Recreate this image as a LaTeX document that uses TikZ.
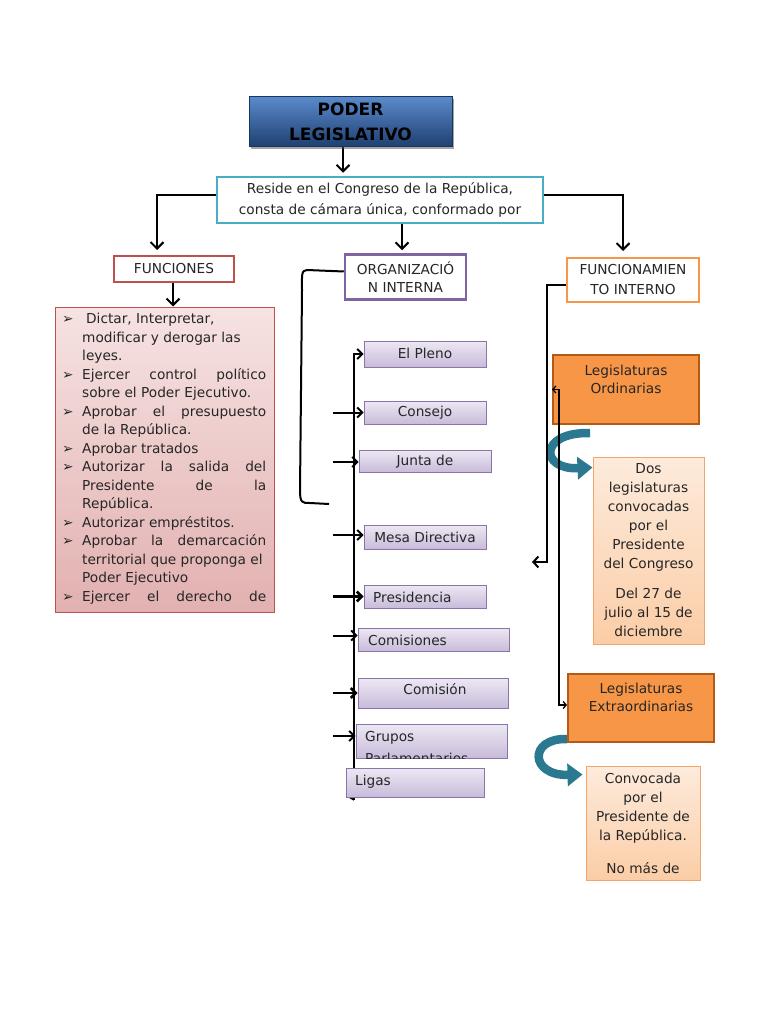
\documentclass[tikz,border=0pt]{standalone}
\usepackage{fontspec}
\setmainfont{DejaVu Sans}
\usetikzlibrary{arrows.meta,shadows,calc}
\pgfdeclarelayer{bg}
\pgfsetlayers{bg,main}
\definecolor{txt}{HTML}{262626}
\definecolor{podtop}{HTML}{5A8ACB}
\definecolor{podbot}{HTML}{1E3F70}
\definecolor{podb}{HTML}{17375E}
\definecolor{resb}{HTML}{4BACC6}
\definecolor{funb}{HTML}{C0504D}
\definecolor{listtop}{HTML}{F6E3E2}
\definecolor{listbot}{HTML}{E2B0B0}
\definecolor{orgb}{HTML}{8064A2}
\definecolor{purtop}{HTML}{EDE8F3}
\definecolor{purbot}{HTML}{C8BBDA}
\definecolor{purb}{HTML}{8A74AA}
\definecolor{finb}{HTML}{F79646}
\definecolor{ordfill}{HTML}{F79646}
\definecolor{ordb}{HTML}{B45A14}
\definecolor{dostop}{HTML}{FDEBDC}
\definecolor{dosbot}{HTML}{FBCDA6}
\definecolor{dosb}{HTML}{F4A468}
\definecolor{tealc}{HTML}{2B7891}
\newcommand\myfs{\fontsize{13.7pt}{18.5pt}\selectfont}
\newcommand\itm{\par\noindent\hangindent=20pt\hangafter=1\makebox[20pt][l]{➢}}
\begin{document}
\begin{tikzpicture}[x=1pt,y=-1pt,
  every node/.style={inner sep=0pt, text=txt, font=\myfs},
  conn/.style={draw=black, line width=2pt, -{Straight Barb[length=6.5pt,width=13pt]}},
  sconn/.style={draw=black, line width=2pt, -{Straight Barb[length=5pt,width=10pt]}},
  thinconn/.style={draw=black, line width=1.3pt, {Straight Barb[length=3pt,width=7pt]}-{Straight Barb[length=3pt,width=7pt]}},
  tealarrow/.style={draw=tealc, line width=8.5pt, -{Triangle[length=15pt,width=22pt]}},
  pbox/.style={draw=purb, line width=0.8pt, top color=purtop, bottom color=purbot,
     drop shadow={shadow xshift=0.8pt, shadow yshift=-1.2pt, fill=black!55}},
  obox/.style={draw=ordb, line width=2pt, fill=ordfill},
  lbox/.style={draw=dosb, line width=1pt, top color=dostop, bottom color=dosbot, align=center,
     font=\fontsize{13.7pt}{19pt}\selectfont},
]
\useasboundingbox (0,0) rectangle (768,1024);

% top
\node[draw=podb, line width=1pt, top color=podtop, bottom color=podbot,
      minimum width=203pt, minimum height=50pt, align=center, text=black,
      font=\fontsize{17pt}{25pt}\selectfont\bfseries,
      drop shadow={shadow xshift=2pt, shadow yshift=-2pt, fill=black!70}] (pod) at (350.5,122) {PODER\\LEGISLATIVO};
\node[draw=resb, line width=2.5pt, fill=white, minimum width=326pt, minimum height=46pt,
      align=center, font=\fontsize{13.7pt}{21pt}\selectfont] (res) at (380,200)
      {Reside en el Congreso de la República,\\consta de cámara única, conformado por};

% three headings
\node[draw=funb, line width=2pt, fill=white, minimum width=120pt, minimum height=26pt] (fun) at (174,269) {FUNCIONES};
\node[draw=orgb, line width=2.5pt, fill=white, minimum width=121pt, minimum height=45pt,
      align=center, font=\fontsize{13.7pt}{18pt}\selectfont] (org) at (405.5,277) {ORGANIZACIÓ\\N INTERNA};
\node[draw=finb, line width=2pt, fill=white, minimum width=132pt, minimum height=44pt,
      align=center, font=\fontsize{13.7pt}{20pt}\selectfont] (fin) at (633,280) {FUNCIONAMIEN\\TO INTERNO};

% functions list
\node[draw=funb, line width=1pt, top color=listtop, bottom color=listbot,
      minimum width=219pt, minimum height=305pt] (list) at (164.5,459.5) {};
\node[anchor=north west] (listtxt) at (62,313) {\parbox[t]{204pt}{\myfs
\itm\hspace{4pt}Dictar, Interpretar,\\modificar y derogar las\\leyes.
\itm Ejercer\hfill control\hfill político\\sobre el Poder Ejecutivo.
\itm Aprobar\hfill el\hfill presupuesto\\de la República.
\itm Aprobar tratados
\itm Autorizar\hfill la\hfill salida\hfill del\\Presidente\hfill de\hfill la\\República.
\itm Autorizar empréstitos.
\itm Aprobar\hfill la\hfill demarcación\\territorial que proponga el\\Poder Ejecutivo
\itm Ejercer\hfill el\hfill derecho\hfill de\par}};

% purple boxes
\node[pbox, minimum width=122pt, minimum height=26pt] (pleno) at (425,354) {};
\node (plenot) at (425,353.5) {El Pleno};
\node[pbox, minimum width=122pt, minimum height=23pt] (consejo) at (425,412.5) {};
\begin{scope}
\clip (consejo.south west) rectangle (consejo.north east);
\node (consejot) at (425,413) {Consejo};
\end{scope}
\node[pbox, minimum width=132pt, minimum height=22pt] (junta) at (425,461) {};
\node (juntat) at (425,462) {Junta de};
\node[pbox, minimum width=122pt, minimum height=24pt] (mesa) at (425,537) {};
\node (mesat) at (425,537) {Mesa Directiva};
\node[pbox, minimum width=122pt, minimum height=23pt] (pres) at (425,596.5) {};
\node[anchor=west] (prest) at (373,597) {Presidencia};
\node[pbox, minimum width=151pt, minimum height=23pt] (comis) at (433.5,639.5) {};
\node[anchor=west] (comist) at (368,640) {Comisiones};
\node[pbox, minimum width=150pt, minimum height=30pt] (comision) at (433,693) {};
\node (comisiont) at (435,689.5) {Comisión};
\node[pbox, minimum width=151pt, minimum height=34pt] (grupos) at (431.5,741) {};
\begin{scope}
\clip (grupos.south west) rectangle (grupos.north east);
\node[anchor=base west, align=left] (grupost) at (365,763) {Grupos\\[3pt]Parlamentarios};
\end{scope}
\node[pbox, minimum width=138pt, minimum height=29pt] (ligas) at (415,782.5) {};
\node[anchor=west] (ligast) at (355,781.5) {Ligas};

% right column
\node[obox, minimum width=146pt, minimum height=69pt] (ord) at (626,389.5) {};
\node[align=center, font=\fontsize{13.7pt}{18pt}\selectfont] (ordt) at (626,379) {Legislaturas\\Ordinarias};
\node[lbox, minimum width=111pt, minimum height=187pt] (dos) at (648.5,550.5)
  {Dos\\legislaturas\\convocadas\\por el\\Presidente\\del Congreso\\[11pt]Del 27 de\\julio al 15 de\\diciembre};
\node[obox, minimum width=146pt, minimum height=68pt] (extra) at (641,708) {};
\node[align=center, font=\fontsize{13.7pt}{18pt}\selectfont] (extrat) at (641,697) {Legislaturas\\Extraordinarias};
\node[lbox, minimum width=114pt, minimum height=114pt] (conv) at (643,823)
  {Convocada\\por el\\Presidente de\\la República.\\[14pt]No más de};

% free ends
\coordinate (lx) at (333,0);
\coordinate (vtop) at (354,354);
\coordinate (vbot) at (354,800);
\coordinate (brk) at (329,504);
\coordinate (rout) at (532,562);

\begin{pgfonlayer}{bg}
\fill[white] (0,0) rectangle (768,1024);
\draw[tealarrow] ([xshift=38pt,yshift=-8pt]ord.south west) .. controls (538,432) and (540,470) .. ([yshift=-11pt]dos.north west);
\draw[tealarrow] ([yshift=4pt]extra.south west) .. controls (528,738) and (530,776) .. ([xshift=-3pt,yshift=-9pt]conv.north west);

\draw[conn, shorten >=3pt] ([xshift=-7.5pt]pod.south) -- ([xshift=-37pt]res.north);
\draw[conn, shorten >=5pt] ([yshift=5pt]res.west) -| ([xshift=-17pt]fun.north);
\draw[conn, shorten >=3pt] ([xshift=22pt]res.south) -- ([xshift=-3.5pt]org.north);
\draw[conn, shorten >=6pt] ([yshift=5pt]res.east) -| ([xshift=-10pt]fin.north);
\draw[conn] ([xshift=-1pt]fun.south) -- ([xshift=8.5pt]list.north);

\draw[line width=2pt] ([yshift=5.5pt]org.west) -- (307,270) .. controls (301,270) and (302,276) .. (302,290)
   -- (300,490) .. controls (300,503) and (302,503) .. (310,503) -- (brk);

\draw[sconn] (vbot) -- (vtop) -- (pleno.west);
\draw[line width=1.5pt] (vbot) -- ++(-5,-3);
\draw[sconn] (consejo.west -| lx) -- (consejo.west);
\draw[sconn] ([yshift=-1pt]junta.west -| lx) -- ([yshift=-1pt]junta.west);
\draw[sconn] ([yshift=2pt]mesa.west -| lx) -- ([yshift=2pt]mesa.west);
\draw[sconn, line width=2.6pt] (pres.west -| lx) -- (pres.west);
\draw[sconn] ([yshift=4pt]comis.west -| lx) -- ([yshift=4pt]comis.west);
\draw[sconn, line width=2.6pt] (comision.west -| lx) -- (comision.west);
\draw[sconn] ([yshift=5pt]grupos.west -| lx) -- ([yshift=5pt]grupos.west);

\draw[conn, -{Straight Barb[length=5pt,width=11pt]}] ([yshift=-5pt]fin.west) -- ++(-19,0) |- (rout);
\end{pgfonlayer}

\draw[thinconn] (ord.west) -- ++(7,0) |- ([yshift=3pt]extra.west);
\end{tikzpicture}
\end{document}
